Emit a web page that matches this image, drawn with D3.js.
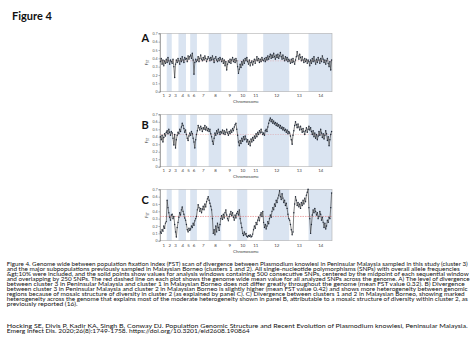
<!DOCTYPE html>
<html><head><meta charset="utf-8">
<script src="https://cdn.jsdelivr.net/npm/d3@7"></script>
<style>html,body{margin:0;padding:0;background:#fff;}svg{display:block;}</style>
</head><body>
<script>
const chromosomes = ["1","2","3","4","5","6","7","8","9","10","11","12","13","14"];
const yTickValues = [0,0.1,0.2,0.3,0.4,0.5,0.6,0.7];
const yTickLabels = ["0","0.1","0.2","0.3","0.4","0.5","0.6","0.7"];
const panelLetters = ["A","B","C"];
const meanFst = [0.37, 0.43, 0.33];

const fstA = [
 [0.36,0.40,0.33,0.38,0.31,0.37,0.34,0.39],
 [0.35,0.41,0.37,0.33,0.38,0.36],
 [0.34,0.39,0.30,0.17,0.33,0.38,0.35,0.40],
 [0.37,0.33,0.40,0.36,0.42,0.38,0.35,0.41,0.39],
 [0.40,0.36,0.43,0.39,0.42],
 [0.44,0.40,0.46,0.38,0.21,0.35,0.39,0.36],
 [0.38,0.42,0.36,0.40,0.44,0.39,0.37,0.41,0.38,0.43,0.40,0.36,0.39,0.42],
 [0.40,0.37,0.41,0.38,0.43,0.39,0.35,0.40,0.42,0.38,0.36,0.40,0.37,0.41,0.39],
 [0.36,0.40,0.34,0.38,0.31,0.36,0.26,0.33,0.37,0.35,0.39,0.34,0.38,0.41,0.36,0.39,0.35,0.40,0.37],
 [0.30,0.22,0.27,0.33,0.29,0.36,0.32,0.38,0.34,0.40,0.37,0.41],
 [0.36,0.33,0.38,0.31,0.35,0.37,0.32,0.36,0.39,0.34,0.38,0.42,0.37,0.40,0.35,0.39,0.36,0.41,0.38],
 [0.37,0.40,0.36,0.41,0.38,0.43,0.39,0.42,0.45,0.40,0.44,0.41,0.46,0.42,0.39,0.44,0.41,0.45,0.40,0.43,0.47,0.42,0.39,0.44,0.40,0.37,0.42,0.38,0.41,0.36,0.39],
 [0.37,0.34,0.39,0.35,0.40,0.36,0.33,0.38,0.42,0.48,0.43,0.39,0.45,0.41,0.37,0.42,0.38,0.35,0.40,0.36,0.39,0.34,0.38],
 [0.36,0.31,0.38,0.34,0.40,0.36,0.42,0.37,0.33,0.39,0.35,0.41,0.38,0.34,0.40,0.36,0.43,0.39,0.35,0.38,0.33,0.37,0.40,0.34,0.30,0.36,0.26,0.38]
];
const fstB = [
 [0.40,0.36,0.42,0.33,0.39,0.44,0.41,0.46],
 [0.48,0.44,0.50,0.46,0.42,0.47],
 [0.45,0.38,0.29,0.43,0.25,0.36,0.42,0.46],
 [0.44,0.50,0.47,0.53,0.58,0.55,0.51,0.46,0.49],
 [0.43,0.38,0.35,0.41,0.45],
 [0.42,0.47,0.44,0.38,0.33,0.25,0.36,0.43],
 [0.48,0.55,0.52,0.49,0.54,0.51,0.47,0.52,0.50,0.55,0.49,0.53,0.48,0.51],
 [0.47,0.50,0.44,0.40,0.34,0.30,0.38,0.45,0.42,0.48,0.44,0.50,0.46,0.43,0.47],
 [0.45,0.49,0.44,0.48,0.43,0.46,0.50,0.45,0.42,0.47,0.44,0.49,0.46,0.51,0.48,0.53,0.56,0.58,0.50],
 [0.42,0.33,0.28,0.35,0.31,0.38,0.34,0.40,0.36,0.41,0.37,0.33],
 [0.36,0.30,0.34,0.28,0.37,0.33,0.39,0.35,0.41,0.38,0.44,0.40,0.46,0.43,0.48,0.45,0.50,0.46,0.43],
 [0.45,0.42,0.48,0.50,0.47,0.53,0.58,0.62,0.65,0.60,0.63,0.58,0.61,0.57,0.59,0.55,0.58,0.54,0.56,0.52,0.55,0.51,0.53,0.49,0.52,0.48,0.50,0.46,0.49,0.44,0.47],
 [0.45,0.41,0.36,0.30,0.42,0.48,0.55,0.60,0.56,0.52,0.57,0.53,0.49,0.54,0.50,0.46,0.51,0.47,0.43,0.48,0.52,0.46,0.50],
 [0.54,0.49,0.52,0.47,0.43,0.48,0.40,0.45,0.38,0.43,0.36,0.41,0.47,0.42,0.50,0.45,0.39,0.44,0.37,0.42,0.48,0.44,0.35,0.40,0.28,0.36,0.43,0.47]
];
const fstC = [
 [0.12,0.10,0.15,0.13,0.20,0.17,0.24,0.26],
 [0.55,0.45,0.38,0.32,0.28,0.35],
 [0.36,0.30,0.33,0.22,0.12,0.05,0.18,0.25],
 [0.32,0.38,0.35,0.42,0.46,0.40,0.36,0.31,0.28],
 [0.22,0.15,0.12,0.17,0.14],
 [0.16,0.20,0.18,0.24,0.21,0.27,0.30,0.33],
 [0.42,0.49,0.45,0.40,0.44,0.38,0.43,0.47,0.42,0.50,0.46,0.53,0.57,0.60],
 [0.55,0.51,0.47,0.42,0.30,0.10,0.15,0.08,0.20,0.12,0.24,0.18,0.14,0.22,0.30],
 [0.34,0.29,0.36,0.31,0.38,0.42,0.35,0.30,0.27,0.33,0.36,0.40,0.34,0.38,0.32,0.28,0.35,0.31,0.37],
 [0.40,0.35,0.42,0.30,0.24,0.18,0.10,0.07,0.12,0.08,0.10,0.06],
 [0.05,0.07,0.06,0.08,0.05,0.06,0.09,0.15,0.20,0.17,0.25,0.22,0.28,0.32,0.27,0.35,0.38,0.33,0.40],
 [0.25,0.18,0.22,0.16,0.20,0.26,0.23,0.30,0.35,0.32,0.40,0.45,0.42,0.50,0.47,0.55,0.52,0.58,0.62,0.68,0.60,0.56,0.64,0.58,0.52,0.55,0.48,0.51,0.44,0.36,0.30],
 [0.28,0.22,0.15,0.08,0.12,0.38,0.50,0.60,0.55,0.48,0.52,0.46,0.50,0.44,0.52,0.48,0.55,0.50,0.58,0.53,0.62,0.66,0.70],
 [0.45,0.30,0.10,0.22,0.35,0.42,0.38,0.44,0.40,0.35,0.38,0.30,0.33,0.40,0.36,0.28,0.32,0.25,0.18,0.24,0.16,0.20,0.28,0.25,0.32,0.30,0.45,0.65]
];

const captionLines = [
 "Figure 4. Genome wide between population fixation index (FST) scan of divergence between Plasmodium knowlesi in Peninsular Malaysia sampled in this study (cluster 3)",
 "and the major subpopulations previously sampled in Malaysian Borneo (clusters 1 and 2). All single-nucleotide polymorphisms (SNPs) with overall allele frequencies",
 "&gt;10% were included, and the solid points show values for analysis windows containing 500 consecutive SNPs, centered by the midpoint of each sequential window",
 "and overlapping by 250 SNPs. The red dashed line on each plot shows the genome wide mean value for all analyzed SNPs across the genome. A) The level of divergence",
 "between cluster 3 in Peninsular Malaysia and cluster 1 in Malaysian Borneo does not differ greatly throughout the genome (mean FST value 0.32). B) Divergence",
 "between cluster 3 in Peninsular Malaysia and cluster 2 in Malaysian Borneo is slightly higher (mean FST value 0.42) and shows more heterogeneity between genomic",
 "regions because of mosaic structure of diversity in cluster 2 (as explained by panel C). C) Divergence between clusters 1 and 2 in Malaysian Borneo, showing marked",
 "heterogeneity across the genome that explains most of the moderate heterogeneity shown in panel B, attributable to a mosaic structure of diversity within cluster 2, as",
 "previously reported (16)."
];
const captionWidths = [461, 453, 462, 463, 458, 461, 458, 461, 71];
const citationLines = [
 "Hocking SE, Divis P, Kadir KA, Singh B, Conway DJ. Population Genomic Structure and Recent Evolution of Plasmodium knowlesi, Peninsular Malaysia.",
 "Emerg Infect Dis. 2020;26(8):1749-1758. https://doi.org/10.3201/eid2608.190864"
];
const citationWidths = [461, 243];

const W = 474, H = 355;
const svg = d3.select("body").append("svg").attr("width", W).attr("height", H);
const font = "Lato, 'Open Sans', sans-serif";

svg.append("text").attr("x", 12).attr("y", 19.5).attr("font-family", font)
  .attr("font-weight", "bold").attr("font-size", 11).attr("fill", "#111").text("Figure 4");

const counts = fstA.map(c => c.length);
const total = d3.sum(counts);
const starts = d3.cumsum([0].concat(counts));

const x = d3.scaleLinear().domain([0, total]).range([160, 332]);

const panels = [
  {data: fstA, top: 33.3, bottom: 91.7, labelY: 96.5, titleY: 102.5},
  {data: fstB, top: 114.3, bottom: 166.7, labelY: 172, titleY: 178},
  {data: fstC, top: 189.3, bottom: 240.7, labelY: 246.5, titleY: 253}
];

panels.forEach((p, pi) => {
  const y = d3.scaleLinear().domain([0, 0.7]).range([p.bottom, p.top]);
  const g = svg.append("g");
  chromosomes.forEach((c, i) => {
    if (i % 2 === 1) {
      g.append("rect").attr("x", x(starts[i])).attr("y", p.top)
        .attr("width", x(starts[i+1]) - x(starts[i])).attr("height", p.bottom - p.top)
        .attr("fill", "#dae4f1");
    }
  });
  g.append("rect").attr("x", 160).attr("y", p.top).attr("width", 172).attr("height", p.bottom - p.top)
    .attr("fill", "none").attr("stroke", "#b0b0b0").attr("stroke-width", 0.6);
  const ya = d3.axisLeft(y).tickValues(yTickValues).tickFormat((d, i) => yTickLabels[i]).tickSize(1.5).tickPadding(1);
  const yg = g.append("g").attr("transform", "translate(160,0)").call(ya);
  yg.select(".domain").attr("stroke", "#666").attr("stroke-width", 0.5);
  yg.selectAll(".tick line").attr("stroke", "#666").attr("stroke-width", 0.5);
  yg.selectAll("text").attr("font-size", 3.6).attr("fill", "#555").attr("font-family", font);
  const xa = d3.axisBottom(x).tickValues(chromosomes.map((c, i) => (starts[i] + starts[i+1]) / 2))
    .tickFormat((d, i) => chromosomes[i]).tickSize(0).tickPadding(0);
  const xg = g.append("g").attr("transform", `translate(0,${p.labelY - 3})`).call(xa);
  xg.select(".domain").remove();
  xg.selectAll("text").attr("font-size", 4.4).attr("fill", "#444").attr("font-family", font);
  g.append("text").attr("x", 246).attr("y", p.titleY).attr("text-anchor", "middle")
    .attr("font-size", 4.4).attr("fill", "#444").attr("font-family", font).text("Chromosome");
  const yl = g.append("text").attr("transform", `translate(148,${(p.top + p.bottom) / 2}) rotate(-90)`)
    .attr("text-anchor", "middle").attr("font-size", 4).attr("fill", "#444").attr("font-family", font);
  yl.append("tspan").text("F");
  yl.append("tspan").attr("font-size", 3).attr("dy", 1).text("ST");
  g.append("text").attr("x", 141.5).attr("y", p.top + 14.5 - (pi === 0 ? 6 : 0)).attr("font-size", 11)
    .attr("font-weight", "bold").attr("font-family", font).attr("fill", "#111").text(panelLetters[pi]);
  g.append("line").attr("x1", 160).attr("x2", 332).attr("y1", y(meanFst[pi])).attr("y2", y(meanFst[pi]))
    .attr("stroke", "#e07070").attr("stroke-width", 0.6).attr("stroke-dasharray", "1.5,1")
    .attr("opacity", pi === 2 ? 1 : 0.45);
  const pts = [];
  p.data.forEach((arr, ci) => arr.forEach((v, j) => pts.push({i: starts[ci] + j + 0.5, v})));
  g.append("path").datum(pts)
    .attr("d", d3.line().x(d => x(d.i)).y(d => y(d.v)))
    .attr("fill", "none").attr("stroke", "#2b2b2b").attr("stroke-width", 0.6);
  g.selectAll("circle.pt").data(pts).enter().append("circle")
    .attr("cx", d => x(d.i)).attr("cy", d => y(d.v)).attr("r", 0.7).attr("fill", "#1e2838");
});

const cap = svg.append("g").attr("font-family", font).attr("font-size", 4.7).attr("fill", "#111");
captionLines.forEach((t, i) => {
  cap.append("text").attr("x", 6.7).attr("y", 266 + i * 5.05).text(t)
    .attr("textLength", captionWidths[i]).attr("lengthAdjust", "spacingAndGlyphs");
});
citationLines.forEach((t, i) => {
  cap.append("text").attr("x", 6.7).attr("y", 327.5 + i * 5.2).text(t)
    .attr("textLength", citationWidths[i]).attr("lengthAdjust", "spacingAndGlyphs");
});
</script>
</body></html>
